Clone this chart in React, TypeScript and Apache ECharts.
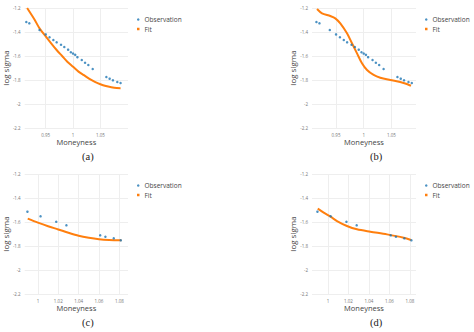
import React, { useEffect, useRef } from "react";
import * as echarts from "echarts";

// Observations shared by panels (a) and (b)
const obsMoneyAB = [0.9145, 0.92, 0.9387, 0.95, 0.957, 0.964, 0.97, 0.978, 0.984, 0.991, 0.996, 1.0, 1.004, 1.008, 1.016, 1.022, 1.028, 1.036, 1.061, 1.067, 1.073, 1.081, 1.087];
const obsSigmaAB = [-1.317, -1.328, -1.383, -1.42, -1.444, -1.467, -1.486, -1.506, -1.525, -1.547, -1.569, -1.58, -1.59, -1.61, -1.633, -1.656, -1.675, -1.708, -1.775, -1.789, -1.803, -1.817, -1.825];

// Observations shared by panels (c) and (d)
const obsMoneyCD = [0.9897, 1.0026, 1.018, 1.028, 1.0612, 1.0663, 1.0745, 1.0814];
const obsSigmaCD = [-1.514, -1.553, -1.598, -1.628, -1.711, -1.723, -1.736, -1.753];

// Fitted curves
const fitMoneyA = [0.916, 0.93, 0.9387, 0.95, 0.96, 0.97, 0.98, 0.99, 1.0, 1.01, 1.02, 1.03, 1.04, 1.05, 1.06, 1.07, 1.08, 1.087];
const fitSigmaA = [-1.2, -1.3, -1.37, -1.437, -1.495, -1.55, -1.6, -1.65, -1.69, -1.73, -1.76, -1.79, -1.815, -1.835, -1.85, -1.86, -1.867, -1.868];

const fitMoneyB = [0.9156, 0.9246, 0.9396, 0.9486, 0.9577, 0.9698, 0.9788, 0.9879, 0.9969, 1.006, 1.018, 1.03, 1.048, 1.066, 1.078, 1.0855];
const fitSigmaB = [-1.208, -1.244, -1.267, -1.286, -1.328, -1.411, -1.494, -1.578, -1.661, -1.717, -1.758, -1.781, -1.8, -1.817, -1.833, -1.848];

const fitMoneyC = [0.99, 1.0, 1.01, 1.02, 1.03, 1.04, 1.05, 1.06, 1.07, 1.082];
const fitSigmaC = [-1.572, -1.605, -1.635, -1.662, -1.69, -1.715, -1.732, -1.744, -1.75, -1.752];

const fitMoneyD = [0.99, 0.9958, 1.0026, 1.0088, 1.0185, 1.0283, 1.0413, 1.0576, 1.0739, 1.081];
const fitSigmaD = [-1.489, -1.522, -1.556, -1.592, -1.633, -1.661, -1.681, -1.703, -1.731, -1.75];

const xTicksAB = [0.95, 1, 1.05];
const xTicksCD = [1, 1.02, 1.04, 1.06, 1.08];
const panelLabels = ["(a)", "(b)", "(c)", "(d)"];

const BLUE = "#1f77b4";
const ORANGE = "#ff7f0e";
const FONT = "Open Sans";

const zip = (xs: number[], ys: number[]) => xs.map((x, i) => [x, ys[i]]);

export default function App() {
  const ref = useRef<HTMLDivElement>(null);
  useEffect(() => {
    if (!ref.current) return;
    const chart = echarts.init(ref.current, undefined, { renderer: "svg" });

    const panels = [
      { left: 24, top: 8, xmin: 0.9115, xmax: 1.1006, ticks: xTicksAB, obsX: obsMoneyAB, obsY: obsSigmaAB, fitX: fitMoneyA, fitY: fitSigmaA },
      { left: 312, top: 8, xmin: 0.9065, xmax: 1.0946, ticks: xTicksAB, obsX: obsMoneyAB, obsY: obsSigmaAB, fitX: fitMoneyB, fitY: fitSigmaB },
      { left: 24, top: 174, xmin: 0.987, xmax: 1.0885, ticks: xTicksCD, obsX: obsMoneyCD, obsY: obsSigmaCD, fitX: fitMoneyC, fitY: fitSigmaC },
      { left: 312, top: 174, xmin: 0.9844, xmax: 1.0859, ticks: xTicksCD, obsX: obsMoneyCD, obsY: obsSigmaCD, fitX: fitMoneyD, fitY: fitSigmaD },
    ];

    const grid: any[] = [];
    const xAxis: any[] = [];
    const yAxis: any[] = [];
    const series: any[] = [];
    const legend: any[] = [];
    const graphic: any[] = [];

    panels.forEach((p, i) => {
      grid.push({ left: p.left, top: p.top, width: 104, height: 120, containLabel: false });
      xAxis.push({
        type: "value",
        gridIndex: i,
        min: p.xmin,
        max: p.xmax,
        name: "Moneyness",
        nameLocation: "middle",
        nameGap: 7,
        nameTextStyle: { fontFamily: FONT, fontSize: 7.5, color: "#444", verticalAlign: "top" },
        axisLine: { show: false },
        axisTick: { show: false, customValues: p.ticks },
        axisLabel: { customValues: p.ticks, fontSize: 4.5, color: "#777", margin: 4, fontFamily: FONT },
        splitLine: { show: true, lineStyle: { color: "#eeeeee", width: 1 } },
      });
      yAxis.push({
        type: "value",
        gridIndex: i,
        min: -2.2,
        max: -1.2,
        interval: 0.2,
        name: "log sigma",
        nameLocation: "middle",
        nameGap: 10,
        nameTextStyle: { fontFamily: FONT, fontSize: 8, color: "#444" },
        axisLine: { show: false },
        axisTick: { show: false },
        axisLabel: { fontSize: 4.5, color: "#777", margin: 4, fontFamily: FONT },
        splitLine: { show: true, lineStyle: { color: "#eeeeee", width: 1 } },
      });
      series.push({
        name: "Fit",
        type: "line",
        xAxisIndex: i,
        yAxisIndex: i,
        data: zip(p.fitX, p.fitY),
        smooth: 0.3,
        showSymbol: false,
        lineStyle: { color: ORANGE, width: 2 },
        itemStyle: { color: ORANGE },
        z: 2,
      });
      series.push({
        name: "Observation",
        type: "scatter",
        xAxisIndex: i,
        yAxisIndex: i,
        data: zip(p.obsX, p.obsY),
        symbolSize: 2.5,
        itemStyle: { color: BLUE },
        z: 3,
      });
      legend.push({
        orient: "vertical",
        left: p.left + 108,
        top: p.top + 3,
        itemWidth: 2.5,
        itemHeight: 2.5,
        itemGap: 2.5,
        textStyle: { fontFamily: FONT, fontSize: 6.5, color: "#444", padding: [0, 0, 0, 0] },
        data: [
          { name: "Observation", icon: "circle", itemStyle: { color: BLUE } },
          { name: "Fit", icon: "rect", itemStyle: { color: ORANGE } },
        ],
      });
      graphic.push({
        type: "text",
        left: p.left + 67 - 9,
        top: p.top + 143,
        style: { text: panelLabels[i], fontFamily: "Liberation Serif", fontSize: 10.5, fill: "#222" },
      });
    });

    chart.setOption({
      animation: false,
      backgroundColor: "#ffffff",
      grid,
      xAxis,
      yAxis,
      series,
      legend,
      graphic,
    });
    return () => chart.dispose();
  }, []);
  return <div ref={ref} style={{ position: "fixed", left: 0, top: 0, width: 474, height: 332 }} />;
}
